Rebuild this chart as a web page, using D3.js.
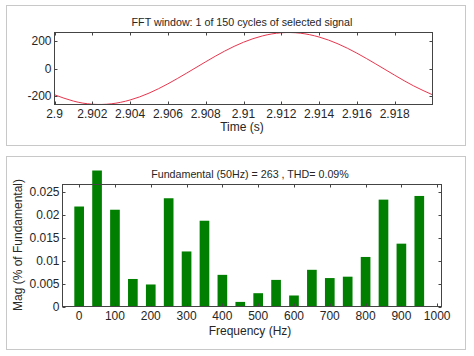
<!DOCTYPE html>
<html><head><meta charset="utf-8">
<script src="https://cdn.jsdelivr.net/npm/d3@7"></script>
<style>body{margin:0;background:#fff}svg{display:block}text{font-family:"Liberation Sans",Arial,sans-serif;fill:#262626}</style>
</head><body>
<script>
const timeVals = [2.900,2.901,2.902,2.903,2.904,2.905,2.906,2.907,2.908,2.909,2.910,2.911,2.912,2.913,2.914,2.915,2.916,2.917,2.918,2.919,2.920];
const signalVals = [-192,-238,-261,-258,-230,-180,-112,-33,49,127,192,238,261,258,230,180,112,33,-49,-127,-192];
const timeTicks = [2.9,2.902,2.904,2.906,2.908,2.91,2.912,2.914,2.916,2.918];
const timeTickLabels = ["2.9","2.902","2.904","2.906","2.908","2.91","2.912","2.914","2.916","2.918"];
const sigTicks = [-200,0,200];
// Bottom panel: harmonic spectrum
const freqs = [0,50,100,150,200,250,300,350,400,450,500,550,600,650,700,750,800,850,900,950];
const mags = [0.0218,0.02965,0.0211,0.0060,0.0048,0.0236,0.0120,0.0187,0.0069,0.0010,0.0029,0.0058,0.0024,0.0080,0.0062,0.0065,0.0108,0.0233,0.0137,0.0241];
const freqTicks = [0,100,200,300,400,500,600,700,800,900,1000];
const magTicks = [0,0.005,0.01,0.015,0.02,0.025];
const magTickLabels = ["0","0.005","0.01","0.015","0.02","0.025"];
const topTitle = "FFT window: 1 of 150 cycles of selected signal";
const bottomTitle = "Fundamental (50Hz) = 263 , THD= 0.09%";

const W=474,H=356;
const svg=d3.select("body").append("svg").attr("width",W).attr("height",H);
svg.append("rect").attr("width",W).attr("height",H).attr("fill","#fff");
// panel frames
svg.append("rect").attr("x",6.5).attr("y",5.5).attr("width",459).attr("height",140).attr("fill","#fff").attr("stroke","#c8c8c8");
svg.append("rect").attr("x",6.5).attr("y",156.5).attr("width",459).attr("height",193).attr("fill","#fff").attr("stroke","#c8c8c8");

const axCol="#444", tl=3, fs=12;

function frame(g,x,y,xt,yt,xl,yl){
  const [x0,x1]=x.range(), [y0,y1]=y.range();
  xt.forEach(v=>{const px=Math.round(x(v))+0.5;
    g.append("line").attr("x1",px).attr("x2",px).attr("y1",y0).attr("y2",y0-tl).attr("stroke",axCol);
    g.append("line").attr("x1",px).attr("x2",px).attr("y1",y1).attr("y2",y1+tl).attr("stroke",axCol);});
  yt.forEach(v=>{const py=Math.round(y(v))+0.5;
    g.append("line").attr("x1",x0).attr("x2",x0+tl).attr("y1",py).attr("y2",py).attr("stroke",axCol);
    g.append("line").attr("x1",x1).attr("x2",x1-tl).attr("y1",py).attr("y2",py).attr("stroke",axCol);});
  g.append("rect").attr("x",x0).attr("y",y1).attr("width",x1-x0).attr("height",y0-y1).attr("fill","none").attr("stroke",axCol);
  xt.forEach((v,i)=>g.append("text").attr("x",x(v)).attr("y",y0+13).attr("text-anchor","middle").attr("font-size",fs).text(xl[i]));
  yt.forEach((v,i)=>g.append("text").attr("x",x0-3).attr("y",y(v)+4).attr("text-anchor","end").attr("font-size",fs).text(yl[i]));
}

// Top plot
const xT=d3.scaleLinear().domain([2.9,2.92]).range([54.5,432.5]);
const yT=d3.scaleLinear().domain([-263,263]).range([104.5,32.5]);
const gT=svg.append("g");
gT.append("path").datum(d3.zip(timeVals,signalVals))
  .attr("d",d3.line().x(d=>xT(d[0])).y(d=>yT(d[1])).curve(d3.curveNatural))
  .attr("fill","none").attr("stroke","#e8364e").attr("stroke-width",1);
frame(gT,xT,yT,timeTicks,sigTicks,timeTickLabels,sigTicks.map(String));
svg.append("text").attr("x",242).attr("y",26).attr("text-anchor","middle").attr("font-size",10.7).text(topTitle);
svg.append("text").attr("x",242).attr("y",131).attr("text-anchor","middle").attr("font-size",12).text("Time (s)");

// Bottom plot
const xB=d3.scaleLinear().domain([-46.5,1012]).range([62.5,441.5]);
const yB=d3.scaleLinear().domain([0,0.0266]).range([306.5,184.5]);
const gB=svg.append("g");
const bw=27;
gB.selectAll("rect.bar").data(d3.zip(freqs,mags)).join("rect").attr("class","bar")
  .attr("x",d=>xB(d[0]-bw/2)).attr("width",d=>xB(bw)-xB(0))
  .attr("y",d=>yB(d[1])).attr("height",d=>yB(0)-yB(d[1])).attr("fill","#007f00");
frame(gB,xB,yB,freqTicks,magTicks,freqTicks.map(String),magTickLabels);
svg.append("text").attr("x",250).attr("y",178).attr("text-anchor","middle").attr("font-size",10.7).text(bottomTitle);
svg.append("text").attr("x",250).attr("y",335).attr("text-anchor","middle").attr("font-size",12).text("Frequency (Hz)");
svg.append("text").attr("transform","translate(22,245) rotate(-90)").attr("text-anchor","middle").attr("font-size",12).text("Mag (% of Fundamental)");
</script>
</body></html>
